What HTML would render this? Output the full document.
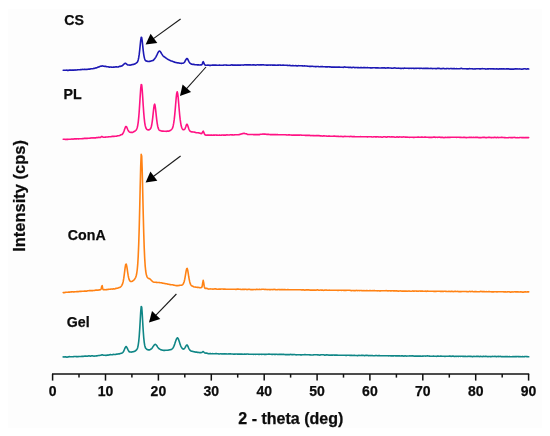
<!DOCTYPE html>
<html><head><meta charset="utf-8"><title>XRD</title>
<style>html,body{margin:0;padding:0;background:#fff}svg{display:block}</style></head>
<body>
<svg width="550" height="436" viewBox="0 0 550 436">
<rect width="550" height="436" fill="#fff"/>
<rect x="8" y="9" width="534" height="419" fill="#fdfdfd"/>
<path d="M63.2,70.3 L63.7,70.3 L64.2,70.2 L64.7,70.3 L65.2,70.2 L65.7,70.2 L66.2,70.2 L66.7,70.1 L67.2,70.4 L67.7,70.4 L68.2,70.4 L68.7,70.2 L69.2,70.1 L69.7,70.1 L70.2,70.0 L70.7,70.1 L71.2,70.1 L71.7,70.2 L72.2,70.1 L72.7,70.1 L73.2,70.1 L73.7,70.1 L74.2,70.1 L74.7,70.0 L75.2,69.9 L75.7,70.1 L76.2,70.0 L76.7,70.0 L77.2,69.9 L77.7,69.8 L78.2,69.8 L78.7,69.8 L79.2,69.8 L79.7,69.8 L80.2,69.8 L80.7,69.6 L81.2,69.6 L81.7,69.5 L82.2,69.5 L82.7,69.4 L83.2,69.5 L83.7,69.5 L84.2,69.4 L84.7,69.4 L85.2,69.4 L85.7,69.5 L86.2,69.5 L86.7,69.4 L87.2,69.4 L87.7,69.3 L88.2,69.2 L88.7,69.1 L89.2,69.1 L89.7,69.1 L90.2,69.0 L90.7,68.9 L91.2,68.8 L91.7,68.8 L92.2,68.7 L92.7,68.7 L93.2,68.6 L93.7,68.4 L94.2,68.4 L94.7,68.2 L95.2,68.1 L95.7,67.9 L96.2,67.9 L96.7,67.7 L97.2,67.5 L97.7,67.2 L98.2,67.1 L98.7,67.0 L99.2,66.7 L99.7,66.6 L100.2,66.3 L100.7,66.3 L101.2,66.1 L101.7,66.1 L102.2,65.9 L102.7,66.0 L103.2,66.1 L103.7,66.2 L104.2,66.3 L104.7,66.4 L105.2,66.4 L105.7,66.4 L106.2,66.5 L106.7,66.7 L107.2,66.7 L107.7,66.8 L108.2,66.8 L108.7,67.0 L109.2,67.1 L109.7,67.1 L110.2,67.0 L110.7,67.0 L111.2,67.1 L111.7,67.3 L112.2,67.3 L112.7,67.2 L113.2,67.1 L113.7,67.1 L114.2,67.1 L114.7,67.0 L115.2,67.0 L115.7,66.9 L116.2,66.9 L116.7,66.9 L117.2,67.0 L117.7,67.0 L118.2,67.0 L118.7,66.7 L119.2,66.5 L119.7,66.3 L120.2,66.4 L120.7,66.2 L121.2,66.1 L121.7,66.0 L122.2,65.8 L122.7,65.4 L123.2,64.8 L123.7,64.4 L124.2,63.9 L124.7,63.5 L125.2,63.3 L125.7,63.4 L126.2,63.7 L126.7,64.2 L127.2,64.6 L127.7,65.0 L128.2,65.0 L128.7,65.0 L129.2,65.0 L129.7,65.1 L130.2,65.1 L130.7,65.0 L131.2,64.9 L131.7,64.8 L132.2,64.6 L132.7,64.5 L133.2,64.4 L133.7,64.4 L134.2,64.3 L134.7,64.1 L135.2,63.7 L135.7,63.4 L136.2,63.1 L136.7,62.8 L137.2,62.3 L137.7,61.4 L138.2,59.9 L138.7,57.7 L139.2,54.4 L139.7,50.1 L140.2,45.1 L140.7,40.4 L141.2,37.3 L141.7,37.5 L142.2,40.9 L142.7,45.7 L143.2,50.4 L143.7,54.3 L144.2,57.1 L144.7,59.0 L145.2,60.2 L145.7,60.7 L146.2,61.0 L146.7,61.1 L147.2,61.3 L147.7,61.4 L148.2,61.5 L148.7,61.5 L149.2,61.4 L149.7,61.4 L150.2,61.2 L150.7,61.1 L151.2,61.0 L151.7,60.8 L152.2,60.7 L152.7,60.5 L153.2,60.4 L153.7,59.9 L154.2,59.3 L154.7,58.7 L155.2,58.1 L155.7,57.3 L156.2,56.4 L156.7,55.3 L157.2,54.4 L157.7,53.2 L158.2,52.3 L158.7,51.5 L159.2,51.1 L159.7,51.1 L160.2,51.4 L160.7,52.1 L161.2,53.0 L161.7,53.9 L162.2,54.6 L162.7,55.4 L163.2,56.0 L163.7,56.5 L164.2,56.8 L164.7,57.1 L165.2,57.5 L165.7,57.8 L166.2,58.2 L166.7,58.5 L167.2,58.9 L167.7,59.2 L168.2,59.4 L168.7,59.7 L169.2,59.9 L169.7,60.2 L170.2,60.4 L170.7,60.7 L171.2,60.9 L171.7,61.1 L172.2,61.3 L172.7,61.4 L173.2,61.6 L173.7,61.7 L174.2,62.0 L174.7,62.3 L175.2,62.4 L175.7,62.5 L176.2,62.5 L176.7,62.7 L177.2,62.8 L177.7,62.9 L178.2,62.9 L178.7,63.0 L179.2,63.0 L179.7,63.2 L180.2,63.2 L180.7,63.3 L181.2,63.4 L181.7,63.4 L182.2,63.3 L182.7,63.2 L183.2,63.1 L183.7,62.9 L184.2,62.5 L184.7,61.9 L185.2,60.9 L185.7,60.0 L186.2,59.2 L186.7,58.6 L187.2,58.6 L187.7,59.1 L188.2,60.1 L188.7,61.2 L189.2,62.1 L189.7,62.9 L190.2,63.3 L190.7,63.8 L191.2,63.9 L191.7,64.2 L192.2,64.3 L192.7,64.4 L193.2,64.4 L193.7,64.4 L194.2,64.5 L194.7,64.6 L195.2,64.7 L195.7,64.8 L196.2,64.8 L196.7,64.8 L197.2,64.9 L197.7,64.9 L198.2,64.9 L198.7,64.9 L199.2,65.0 L199.7,65.0 L200.2,65.0 L200.7,64.9 L201.2,65.0 L201.7,64.8 L202.2,64.1 L202.7,62.6 L203.2,61.7 L203.7,62.6 L204.2,64.0 L204.7,64.8 L205.2,65.0 L205.7,65.2 L206.2,65.2 L206.7,65.2 L207.2,65.2 L207.7,65.1 L208.2,65.1 L208.7,65.2 L209.2,65.2 L209.7,65.4 L210.2,65.3 L210.7,65.4 L211.2,65.3 L211.7,65.2 L212.2,65.1 L212.7,65.1 L213.2,65.1 L213.7,65.1 L214.2,65.1 L214.7,65.1 L215.2,65.1 L215.7,65.1 L216.2,65.1 L216.7,65.2 L217.2,65.3 L217.7,65.3 L218.2,65.3 L218.7,65.2 L219.2,65.1 L219.7,65.1 L220.2,65.2 L220.7,65.3 L221.2,65.3 L221.7,65.2 L222.2,65.2 L222.7,65.2 L223.2,65.2 L223.7,65.1 L224.2,65.0 L224.7,65.0 L225.2,65.0 L225.7,65.0 L226.2,65.1 L226.7,65.1 L227.2,65.3 L227.7,65.3 L228.2,65.3 L228.7,65.2 L229.2,65.2 L229.7,65.2 L230.2,65.2 L230.7,65.1 L231.2,65.0 L231.7,64.9 L232.2,64.9 L232.7,65.2 L233.2,65.1 L233.7,65.1 L234.2,65.1 L234.7,65.0 L235.2,65.1 L235.7,65.1 L236.2,65.2 L236.7,65.1 L237.2,65.1 L237.7,65.1 L238.2,65.0 L238.7,65.1 L239.2,65.0 L239.7,65.2 L240.2,65.1 L240.7,65.1 L241.2,65.0 L241.7,65.0 L242.2,65.0 L242.7,65.0 L243.2,65.1 L243.7,65.0 L244.2,65.0 L244.7,64.8 L245.2,64.8 L245.7,64.9 L246.2,64.9 L246.7,65.0 L247.2,64.8 L247.7,64.9 L248.2,64.9 L248.7,64.9 L249.2,64.9 L249.7,64.9 L250.2,65.0 L250.7,64.9 L251.2,65.0 L251.7,65.0 L252.2,65.0 L252.7,64.9 L253.2,64.9 L253.7,64.9 L254.2,64.9 L254.7,65.0 L255.2,65.0 L255.7,65.1 L256.2,65.0 L256.7,65.0 L257.2,64.8 L257.7,64.8 L258.2,64.8 L258.7,65.0 L259.2,65.0 L259.7,64.9 L260.2,64.9 L260.7,64.8 L261.2,64.9 L261.7,64.9 L262.2,64.9 L262.7,64.8 L263.2,64.8 L263.7,64.9 L264.2,65.0 L264.7,65.0 L265.2,65.0 L265.7,65.0 L266.2,65.1 L266.7,65.1 L267.2,65.1 L267.7,65.1 L268.2,65.1 L268.7,65.0 L269.2,65.0 L269.7,65.0 L270.2,65.2 L270.7,65.0 L271.2,65.0 L271.7,65.0 L272.2,65.1 L272.7,65.1 L273.2,65.1 L273.7,65.1 L274.2,65.1 L274.7,65.0 L275.2,65.1 L275.7,65.2 L276.2,65.2 L276.7,65.2 L277.2,65.1 L277.7,65.2 L278.2,65.1 L278.7,65.1 L279.2,65.0 L279.7,65.0 L280.2,65.1 L280.7,65.1 L281.2,65.2 L281.7,65.2 L282.2,65.2 L282.7,65.1 L283.2,65.2 L283.7,65.1 L284.2,65.2 L284.7,65.2 L285.2,65.3 L285.7,65.3 L286.2,65.3 L286.7,65.3 L287.2,65.4 L287.7,65.4 L288.2,65.5 L288.7,65.5 L289.2,65.4 L289.7,65.4 L290.2,65.5 L290.7,65.6 L291.2,65.7 L291.7,65.7 L292.2,65.6 L292.7,65.6 L293.2,65.6 L293.7,65.7 L294.2,65.7 L294.7,65.7 L295.2,65.7 L295.7,65.6 L296.2,65.8 L296.7,65.9 L297.2,66.0 L297.7,65.9 L298.2,65.6 L298.7,65.7 L299.2,65.7 L299.7,65.8 L300.2,65.8 L300.7,65.8 L301.2,65.8 L301.7,65.8 L302.2,65.9 L302.7,65.9 L303.2,66.0 L303.7,66.0 L304.2,65.9 L304.7,65.9 L305.2,66.0 L305.7,66.0 L306.2,66.0 L306.7,66.0 L307.2,66.1 L307.7,66.2 L308.2,66.2 L308.7,66.3 L309.2,66.4 L309.7,66.4 L310.2,66.4 L310.7,66.4 L311.2,66.4 L311.7,66.3 L312.2,66.3 L312.7,66.3 L313.2,66.5 L313.7,66.5 L314.2,66.5 L314.7,66.5 L315.2,66.6 L315.7,66.6 L316.2,66.6 L316.7,66.5 L317.2,66.5 L317.7,66.5 L318.2,66.5 L318.7,66.6 L319.2,66.7 L319.7,66.7 L320.2,66.7 L320.7,66.6 L321.2,66.7 L321.7,66.6 L322.2,66.6 L322.7,66.6 L323.2,66.7 L323.7,66.8 L324.2,66.8 L324.7,66.7 L325.2,66.7 L325.7,66.9 L326.2,66.9 L326.7,66.9 L327.2,66.9 L327.7,66.9 L328.2,66.8 L328.7,66.8 L329.2,66.9 L329.7,66.9 L330.2,66.9 L330.7,67.0 L331.2,67.1 L331.7,67.1 L332.2,67.1 L332.7,67.0 L333.2,67.1 L333.7,67.0 L334.2,67.1 L334.7,67.1 L335.2,67.2 L335.7,67.1 L336.2,67.2 L336.7,67.1 L337.2,67.2 L337.7,67.1 L338.2,67.1 L338.7,67.1 L339.2,67.0 L339.7,67.1 L340.2,67.2 L340.7,67.3 L341.2,67.3 L341.7,67.2 L342.2,67.2 L342.7,67.3 L343.2,67.4 L343.7,67.3 L344.2,67.0 L344.7,66.9 L345.2,67.1 L345.7,67.3 L346.2,67.3 L346.7,67.3 L347.2,67.3 L347.7,67.3 L348.2,67.4 L348.7,67.4 L349.2,67.5 L349.7,67.4 L350.2,67.4 L350.7,67.4 L351.2,67.5 L351.7,67.6 L352.2,67.6 L352.7,67.4 L353.2,67.3 L353.7,67.3 L354.2,67.5 L354.7,67.6 L355.2,67.6 L355.7,67.5 L356.2,67.5 L356.7,67.5 L357.2,67.6 L357.7,67.5 L358.2,67.6 L358.7,67.6 L359.2,67.7 L359.7,67.7 L360.2,67.6 L360.7,67.6 L361.2,67.6 L361.7,67.6 L362.2,67.7 L362.7,67.7 L363.2,67.6 L363.7,67.5 L364.2,67.6 L364.7,67.6 L365.2,67.6 L365.7,67.7 L366.2,67.7 L366.7,67.8 L367.2,67.6 L367.7,67.6 L368.2,67.7 L368.7,67.7 L369.2,67.7 L369.7,67.8 L370.2,67.9 L370.7,67.9 L371.2,67.9 L371.7,68.0 L372.2,67.9 L372.7,67.8 L373.2,67.7 L373.7,67.8 L374.2,67.7 L374.7,67.7 L375.2,67.7 L375.7,67.9 L376.2,67.8 L376.7,67.9 L377.2,67.9 L377.7,67.9 L378.2,67.9 L378.7,68.0 L379.2,68.0 L379.7,68.0 L380.2,68.0 L380.7,68.0 L381.2,68.0 L381.7,67.9 L382.2,68.0 L382.7,67.9 L383.2,68.0 L383.7,67.9 L384.2,67.9 L384.7,67.9 L385.2,68.0 L385.7,68.1 L386.2,68.0 L386.7,68.0 L387.2,67.9 L387.7,67.9 L388.2,67.9 L388.7,67.9 L389.2,68.0 L389.7,68.0 L390.2,68.0 L390.7,68.0 L391.2,68.1 L391.7,68.2 L392.2,68.3 L392.7,68.2 L393.2,68.1 L393.7,68.0 L394.2,68.0 L394.7,67.9 L395.2,68.0 L395.7,68.0 L396.2,68.2 L396.7,68.3 L397.2,68.2 L397.7,68.2 L398.2,68.1 L398.7,68.2 L399.2,68.2 L399.7,68.3 L400.2,68.4 L400.7,68.4 L401.2,68.5 L401.7,68.4 L402.2,68.3 L402.7,68.3 L403.2,68.4 L403.7,68.4 L404.2,68.3 L404.7,68.1 L405.2,68.2 L405.7,68.2 L406.2,68.3 L406.7,68.3 L407.2,68.2 L407.7,68.2 L408.2,68.3 L408.7,68.4 L409.2,68.4 L409.7,68.3 L410.2,68.3 L410.7,68.3 L411.2,68.4 L411.7,68.3 L412.2,68.2 L412.7,68.3 L413.2,68.2 L413.7,68.4 L414.2,68.4 L414.7,68.5 L415.2,68.4 L415.7,68.3 L416.2,68.3 L416.7,68.4 L417.2,68.3 L417.7,68.2 L418.2,68.3 L418.7,68.3 L419.2,68.4 L419.7,68.3 L420.2,68.4 L420.7,68.3 L421.2,68.3 L421.7,68.3 L422.2,68.5 L422.7,68.5 L423.2,68.4 L423.7,68.5 L424.2,68.4 L424.7,68.5 L425.2,68.4 L425.7,68.4 L426.2,68.4 L426.7,68.4 L427.2,68.4 L427.7,68.3 L428.2,68.4 L428.7,68.5 L429.2,68.5 L429.7,68.5 L430.2,68.5 L430.7,68.4 L431.2,68.4 L431.7,68.5 L432.2,68.5 L432.7,68.6 L433.2,68.5 L433.7,68.5 L434.2,68.5 L434.7,68.5 L435.2,68.5 L435.7,68.6 L436.2,68.6 L436.7,68.6 L437.2,68.4 L437.7,68.4 L438.2,68.4 L438.7,68.4 L439.2,68.4 L439.7,68.5 L440.2,68.6 L440.7,68.7 L441.2,68.7 L441.7,68.6 L442.2,68.6 L442.7,68.5 L443.2,68.4 L443.7,68.5 L444.2,68.6 L444.7,68.7 L445.2,68.7 L445.7,68.7 L446.2,68.6 L446.7,68.6 L447.2,68.5 L447.7,68.5 L448.2,68.5 L448.7,68.7 L449.2,68.7 L449.7,68.7 L450.2,68.5 L450.7,68.5 L451.2,68.5 L451.7,68.6 L452.2,68.6 L452.7,68.7 L453.2,68.8 L453.7,68.6 L454.2,68.5 L454.7,68.6 L455.2,68.7 L455.7,68.7 L456.2,68.7 L456.7,68.6 L457.2,68.7 L457.7,68.7 L458.2,68.7 L458.7,68.7 L459.2,68.7 L459.7,68.7 L460.2,68.6 L460.7,68.5 L461.2,68.4 L461.7,68.4 L462.2,68.6 L462.7,68.7 L463.2,68.8 L463.7,68.8 L464.2,68.7 L464.7,68.8 L465.2,68.8 L465.7,68.8 L466.2,68.8 L466.7,68.9 L467.2,68.9 L467.7,68.8 L468.2,68.9 L468.7,68.7 L469.2,68.7 L469.7,68.6 L470.2,68.7 L470.7,68.7 L471.2,68.8 L471.7,68.7 L472.2,68.8 L472.7,68.9 L473.2,69.0 L473.7,69.0 L474.2,68.9 L474.7,69.0 L475.2,69.0 L475.7,68.9 L476.2,68.8 L476.7,68.8 L477.2,68.8 L477.7,68.7 L478.2,68.7 L478.7,68.7 L479.2,68.7 L479.7,68.9 L480.2,68.9 L480.7,68.9 L481.2,68.7 L481.7,68.7 L482.2,68.6 L482.7,68.7 L483.2,68.8 L483.7,68.8 L484.2,68.8 L484.7,68.8 L485.2,68.9 L485.7,69.1 L486.2,69.0 L486.7,69.0 L487.2,68.9 L487.7,68.9 L488.2,68.8 L488.7,68.9 L489.2,68.8 L489.7,68.8 L490.2,68.8 L490.7,68.9 L491.2,68.9 L491.7,68.8 L492.2,68.8 L492.7,68.9 L493.2,68.9 L493.7,68.9 L494.2,68.9 L494.7,69.0 L495.2,69.0 L495.7,69.0 L496.2,68.8 L496.7,68.7 L497.2,68.9 L497.7,69.0 L498.2,69.1 L498.7,69.0 L499.2,68.9 L499.7,68.9 L500.2,68.9 L500.7,69.0 L501.2,68.9 L501.7,68.9 L502.2,68.9 L502.7,69.0 L503.2,68.9 L503.7,68.9 L504.2,68.9 L504.7,69.0 L505.2,69.0 L505.7,69.0 L506.2,68.9 L506.7,68.8 L507.2,68.9 L507.7,68.9 L508.2,68.9 L508.7,68.9 L509.2,69.0 L509.7,69.1 L510.2,69.1 L510.7,69.0 L511.2,69.1 L511.7,69.1 L512.2,69.1 L512.7,69.1 L513.2,69.2 L513.7,69.0 L514.2,69.1 L514.7,68.9 L515.2,68.9 L515.7,68.9 L516.2,68.9 L516.7,69.0 L517.2,68.9 L517.7,69.0 L518.2,69.0 L518.7,69.0 L519.2,68.9 L519.7,69.0 L520.2,69.0 L520.7,69.0 L521.2,69.1 L521.7,69.2 L522.2,69.2 L522.7,69.0 L523.2,69.0 L523.7,68.9 L524.2,68.8 L524.7,68.7 L525.2,68.8 L525.7,69.0 L526.2,69.0 L526.7,69.1 L527.2,68.9 L527.7,68.9 L528.2,68.9 L528.7,69.0" fill="none" stroke="#1c18b4" stroke-width="1.6" stroke-linejoin="round" stroke-linecap="round"/>
<path d="M63.2,139.3 L63.7,139.3 L64.2,139.3 L64.7,139.3 L65.2,139.4 L65.7,139.5 L66.2,139.4 L66.7,139.4 L67.2,139.3 L67.7,139.4 L68.2,139.2 L68.7,139.2 L69.2,139.2 L69.7,139.2 L70.2,139.2 L70.7,139.2 L71.2,139.1 L71.7,139.0 L72.2,139.0 L72.7,139.1 L73.2,139.1 L73.7,139.0 L74.2,138.9 L74.7,138.9 L75.2,138.8 L75.7,138.9 L76.2,138.9 L76.7,138.9 L77.2,138.8 L77.7,138.8 L78.2,138.9 L78.7,138.9 L79.2,138.8 L79.7,138.7 L80.2,138.8 L80.7,138.8 L81.2,138.7 L81.7,138.7 L82.2,138.6 L82.7,138.7 L83.2,138.6 L83.7,138.5 L84.2,138.4 L84.7,138.4 L85.2,138.4 L85.7,138.4 L86.2,138.4 L86.7,138.4 L87.2,138.4 L87.7,138.2 L88.2,138.2 L88.7,138.3 L89.2,138.3 L89.7,138.3 L90.2,138.1 L90.7,138.0 L91.2,137.9 L91.7,138.0 L92.2,138.0 L92.7,137.9 L93.2,138.0 L93.7,137.9 L94.2,138.0 L94.7,137.9 L95.2,137.9 L95.7,137.9 L96.2,137.7 L96.7,137.5 L97.2,137.5 L97.7,137.6 L98.2,137.5 L98.7,137.3 L99.2,137.4 L99.7,137.5 L100.2,137.5 L100.7,137.2 L101.2,136.8 L101.7,136.5 L102.2,136.6 L102.7,136.9 L103.2,137.2 L103.7,137.3 L104.2,137.3 L104.7,137.2 L105.2,137.1 L105.7,137.1 L106.2,137.0 L106.7,137.0 L107.2,137.0 L107.7,137.0 L108.2,136.9 L108.7,136.8 L109.2,136.8 L109.7,136.8 L110.2,136.8 L110.7,136.7 L111.2,136.6 L111.7,136.5 L112.2,136.4 L112.7,136.3 L113.2,136.4 L113.7,136.4 L114.2,136.4 L114.7,136.3 L115.2,136.3 L115.7,136.3 L116.2,136.2 L116.7,136.1 L117.2,136.0 L117.7,135.8 L118.2,135.8 L118.7,135.7 L119.2,135.6 L119.7,135.4 L120.2,135.2 L120.7,134.9 L121.2,134.8 L121.7,134.6 L122.2,134.4 L122.7,133.8 L123.2,132.9 L123.7,131.8 L124.2,130.6 L124.7,129.1 L125.2,127.7 L125.7,126.6 L126.2,126.5 L126.7,127.1 L127.2,128.3 L127.7,129.5 L128.2,130.5 L128.7,131.3 L129.2,131.8 L129.7,132.2 L130.2,132.3 L130.7,132.4 L131.2,132.4 L131.7,132.4 L132.2,132.5 L132.7,132.4 L133.2,132.1 L133.7,131.8 L134.2,131.5 L134.7,131.3 L135.2,130.9 L135.7,130.5 L136.2,129.9 L136.7,129.1 L137.2,127.7 L137.7,125.6 L138.2,122.3 L138.7,117.7 L139.2,111.5 L139.7,104.0 L140.2,96.0 L140.7,88.7 L141.2,84.5 L141.7,84.9 L142.2,89.8 L142.7,97.2 L143.2,105.2 L143.7,112.4 L144.2,118.2 L144.7,122.6 L145.2,125.5 L145.7,127.4 L146.2,128.6 L146.7,129.2 L147.2,129.5 L147.7,129.7 L148.2,130.0 L148.7,129.9 L149.2,129.7 L149.7,129.5 L150.2,129.1 L150.7,128.4 L151.2,127.0 L151.7,125.0 L152.2,121.8 L152.7,117.9 L153.2,113.2 L153.7,108.6 L154.2,105.1 L154.7,104.1 L155.2,106.3 L155.7,110.4 L156.2,115.2 L156.7,119.6 L157.2,123.3 L157.7,126.2 L158.2,128.1 L158.7,129.3 L159.2,130.1 L159.7,130.4 L160.2,130.6 L160.7,130.8 L161.2,130.9 L161.7,131.1 L162.2,131.1 L162.7,131.1 L163.2,131.1 L163.7,131.2 L164.2,131.2 L164.7,131.3 L165.2,131.3 L165.7,131.3 L166.2,131.4 L166.7,131.3 L167.2,131.1 L167.7,131.0 L168.2,131.1 L168.7,131.2 L169.2,131.0 L169.7,130.8 L170.2,130.6 L170.7,130.2 L171.2,129.8 L171.7,129.3 L172.2,128.6 L172.7,127.6 L173.2,125.7 L173.7,123.2 L174.2,119.7 L174.7,115.2 L175.2,109.7 L175.7,103.5 L176.2,97.7 L176.7,93.4 L177.2,91.8 L177.7,93.6 L178.2,97.9 L178.7,103.7 L179.2,109.7 L179.7,115.2 L180.2,119.7 L180.7,123.1 L181.2,125.8 L181.7,127.5 L182.2,128.6 L182.7,129.4 L183.2,129.7 L183.7,129.8 L184.2,129.6 L184.7,129.2 L185.2,128.3 L185.7,127.0 L186.2,125.4 L186.7,124.4 L187.2,124.3 L187.7,125.5 L188.2,127.1 L188.7,128.6 L189.2,129.8 L189.7,130.7 L190.2,131.3 L190.7,131.6 L191.2,131.8 L191.7,131.9 L192.2,131.9 L192.7,132.0 L193.2,132.0 L193.7,132.0 L194.2,132.1 L194.7,132.3 L195.2,132.4 L195.7,132.5 L196.2,132.7 L196.7,132.7 L197.2,132.7 L197.7,132.8 L198.2,132.8 L198.7,132.9 L199.2,133.0 L199.7,133.1 L200.2,133.3 L200.7,133.5 L201.2,133.6 L201.7,133.5 L202.2,132.8 L202.7,131.8 L203.2,131.2 L203.7,132.1 L204.2,133.4 L204.7,134.4 L205.2,134.9 L205.7,135.1 L206.2,135.2 L206.7,135.1 L207.2,135.1 L207.7,135.1 L208.2,135.0 L208.7,135.1 L209.2,135.2 L209.7,135.1 L210.2,135.2 L210.7,135.1 L211.2,135.1 L211.7,135.0 L212.2,135.2 L212.7,135.2 L213.2,135.1 L213.7,135.0 L214.2,135.1 L214.7,135.1 L215.2,135.0 L215.7,135.0 L216.2,135.1 L216.7,135.1 L217.2,135.1 L217.7,135.2 L218.2,135.2 L218.7,135.2 L219.2,135.1 L219.7,135.1 L220.2,135.3 L220.7,135.3 L221.2,135.3 L221.7,135.1 L222.2,135.0 L222.7,135.0 L223.2,135.1 L223.7,135.0 L224.2,135.1 L224.7,135.1 L225.2,135.1 L225.7,135.1 L226.2,135.0 L226.7,134.9 L227.2,134.9 L227.7,135.0 L228.2,135.0 L228.7,135.0 L229.2,135.0 L229.7,135.0 L230.2,134.8 L230.7,134.8 L231.2,134.8 L231.7,134.9 L232.2,134.9 L232.7,134.9 L233.2,135.0 L233.7,135.0 L234.2,134.9 L234.7,134.8 L235.2,134.7 L235.7,134.8 L236.2,134.7 L236.7,134.8 L237.2,134.7 L237.7,134.7 L238.2,134.8 L238.7,134.8 L239.2,134.6 L239.7,134.5 L240.2,134.2 L240.7,134.1 L241.2,134.0 L241.7,133.9 L242.2,133.8 L242.7,133.6 L243.2,133.5 L243.7,133.4 L244.2,133.3 L244.7,133.5 L245.2,133.7 L245.7,133.7 L246.2,133.8 L246.7,133.9 L247.2,134.2 L247.7,134.4 L248.2,134.5 L248.7,134.5 L249.2,134.5 L249.7,134.5 L250.2,134.5 L250.7,134.5 L251.2,134.5 L251.7,134.5 L252.2,134.5 L252.7,134.5 L253.2,134.5 L253.7,134.7 L254.2,134.6 L254.7,134.5 L255.2,134.6 L255.7,134.6 L256.2,134.6 L256.7,134.5 L257.2,134.6 L257.7,134.6 L258.2,134.6 L258.7,134.6 L259.2,134.6 L259.7,134.6 L260.2,134.3 L260.7,134.3 L261.2,134.3 L261.7,134.3 L262.2,134.2 L262.7,134.0 L263.2,134.0 L263.7,134.1 L264.2,134.1 L264.7,134.1 L265.2,134.1 L265.7,134.2 L266.2,134.3 L266.7,134.4 L267.2,134.4 L267.7,134.4 L268.2,134.4 L268.7,134.4 L269.2,134.5 L269.7,134.5 L270.2,134.6 L270.7,134.6 L271.2,134.6 L271.7,134.6 L272.2,134.6 L272.7,134.6 L273.2,134.6 L273.7,134.6 L274.2,134.6 L274.7,134.6 L275.2,134.5 L275.7,134.6 L276.2,134.6 L276.7,134.7 L277.2,134.6 L277.7,134.6 L278.2,134.7 L278.7,134.8 L279.2,134.7 L279.7,134.8 L280.2,134.7 L280.7,134.7 L281.2,134.7 L281.7,134.7 L282.2,134.8 L282.7,134.7 L283.2,134.8 L283.7,134.8 L284.2,134.8 L284.7,134.8 L285.2,134.8 L285.7,134.8 L286.2,134.9 L286.7,135.0 L287.2,135.0 L287.7,135.0 L288.2,134.9 L288.7,134.9 L289.2,134.9 L289.7,134.9 L290.2,135.0 L290.7,135.0 L291.2,135.0 L291.7,135.1 L292.2,135.1 L292.7,135.2 L293.2,135.1 L293.7,135.1 L294.2,135.1 L294.7,135.1 L295.2,135.0 L295.7,135.1 L296.2,135.0 L296.7,135.1 L297.2,135.0 L297.7,135.1 L298.2,135.1 L298.7,135.1 L299.2,135.0 L299.7,135.1 L300.2,135.0 L300.7,135.0 L301.2,135.1 L301.7,135.2 L302.2,135.3 L302.7,135.3 L303.2,135.3 L303.7,135.3 L304.2,135.2 L304.7,135.3 L305.2,135.4 L305.7,135.4 L306.2,135.4 L306.7,135.4 L307.2,135.4 L307.7,135.4 L308.2,135.4 L308.7,135.4 L309.2,135.3 L309.7,135.4 L310.2,135.5 L310.7,135.6 L311.2,135.6 L311.7,135.5 L312.2,135.5 L312.7,135.6 L313.2,135.6 L313.7,135.6 L314.2,135.6 L314.7,135.8 L315.2,135.7 L315.7,135.6 L316.2,135.6 L316.7,135.6 L317.2,135.6 L317.7,135.5 L318.2,135.6 L318.7,135.6 L319.2,135.6 L319.7,135.7 L320.2,135.9 L320.7,135.9 L321.2,135.9 L321.7,136.0 L322.2,136.0 L322.7,136.1 L323.2,135.9 L323.7,135.9 L324.2,135.8 L324.7,136.0 L325.2,136.0 L325.7,136.0 L326.2,136.0 L326.7,136.1 L327.2,136.2 L327.7,136.2 L328.2,136.1 L328.7,136.1 L329.2,136.0 L329.7,136.1 L330.2,136.2 L330.7,136.3 L331.2,136.3 L331.7,136.2 L332.2,136.2 L332.7,136.2 L333.2,136.2 L333.7,136.1 L334.2,136.1 L334.7,136.1 L335.2,136.3 L335.7,136.3 L336.2,136.4 L336.7,136.3 L337.2,136.3 L337.7,136.4 L338.2,136.4 L338.7,136.4 L339.2,136.5 L339.7,136.5 L340.2,136.5 L340.7,136.4 L341.2,136.4 L341.7,136.5 L342.2,136.5 L342.7,136.6 L343.2,136.5 L343.7,136.6 L344.2,136.4 L344.7,136.5 L345.2,136.4 L345.7,136.5 L346.2,136.5 L346.7,136.5 L347.2,136.5 L347.7,136.5 L348.2,136.5 L348.7,136.5 L349.2,136.5 L349.7,136.6 L350.2,136.5 L350.7,136.4 L351.2,136.4 L351.7,136.6 L352.2,136.6 L352.7,136.7 L353.2,136.6 L353.7,136.6 L354.2,136.6 L354.7,136.6 L355.2,136.7 L355.7,136.7 L356.2,136.7 L356.7,136.8 L357.2,136.7 L357.7,136.7 L358.2,136.7 L358.7,136.7 L359.2,136.8 L359.7,136.7 L360.2,136.7 L360.7,136.6 L361.2,136.7 L361.7,136.7 L362.2,136.7 L362.7,136.7 L363.2,136.8 L363.7,136.8 L364.2,136.8 L364.7,136.8 L365.2,136.8 L365.7,136.7 L366.2,136.7 L366.7,136.8 L367.2,136.9 L367.7,136.9 L368.2,136.8 L368.7,136.7 L369.2,136.7 L369.7,136.7 L370.2,136.8 L370.7,136.7 L371.2,136.8 L371.7,136.9 L372.2,137.0 L372.7,137.0 L373.2,137.0 L373.7,136.8 L374.2,136.8 L374.7,136.8 L375.2,136.9 L375.7,136.9 L376.2,136.9 L376.7,136.9 L377.2,136.8 L377.7,136.8 L378.2,136.9 L378.7,137.0 L379.2,137.0 L379.7,137.0 L380.2,136.9 L380.7,137.0 L381.2,137.0 L381.7,137.1 L382.2,137.2 L382.7,137.1 L383.2,136.9 L383.7,136.8 L384.2,136.8 L384.7,136.8 L385.2,136.9 L385.7,137.0 L386.2,137.1 L386.7,137.1 L387.2,136.9 L387.7,136.9 L388.2,136.8 L388.7,136.8 L389.2,136.8 L389.7,136.9 L390.2,137.0 L390.7,137.0 L391.2,136.9 L391.7,136.9 L392.2,136.9 L392.7,137.0 L393.2,136.9 L393.7,137.0 L394.2,137.0 L394.7,137.1 L395.2,137.2 L395.7,137.2 L396.2,137.1 L396.7,136.9 L397.2,136.9 L397.7,137.0 L398.2,137.2 L398.7,137.1 L399.2,137.0 L399.7,136.9 L400.2,137.0 L400.7,137.0 L401.2,137.0 L401.7,137.1 L402.2,137.1 L402.7,137.0 L403.2,137.0 L403.7,136.9 L404.2,137.0 L404.7,137.0 L405.2,137.1 L405.7,137.1 L406.2,137.1 L406.7,137.2 L407.2,137.1 L407.7,137.2 L408.2,137.2 L408.7,137.3 L409.2,137.3 L409.7,137.4 L410.2,137.3 L410.7,137.2 L411.2,137.2 L411.7,137.3 L412.2,137.3 L412.7,137.3 L413.2,137.4 L413.7,137.4 L414.2,137.4 L414.7,137.3 L415.2,137.2 L415.7,137.3 L416.2,137.2 L416.7,137.2 L417.2,137.2 L417.7,137.1 L418.2,137.1 L418.7,137.1 L419.2,137.2 L419.7,137.3 L420.2,137.3 L420.7,137.2 L421.2,137.1 L421.7,137.1 L422.2,137.1 L422.7,137.3 L423.2,137.3 L423.7,137.3 L424.2,137.3 L424.7,137.1 L425.2,137.1 L425.7,137.1 L426.2,137.2 L426.7,137.2 L427.2,137.2 L427.7,137.2 L428.2,137.3 L428.7,137.4 L429.2,137.4 L429.7,137.4 L430.2,137.4 L430.7,137.3 L431.2,137.4 L431.7,137.4 L432.2,137.4 L432.7,137.3 L433.2,137.3 L433.7,137.1 L434.2,137.0 L434.7,137.1 L435.2,137.3 L435.7,137.4 L436.2,137.3 L436.7,137.3 L437.2,137.3 L437.7,137.4 L438.2,137.3 L438.7,137.3 L439.2,137.1 L439.7,137.2 L440.2,137.2 L440.7,137.5 L441.2,137.4 L441.7,137.4 L442.2,137.3 L442.7,137.4 L443.2,137.5 L443.7,137.6 L444.2,137.6 L444.7,137.5 L445.2,137.4 L445.7,137.4 L446.2,137.5 L446.7,137.5 L447.2,137.4 L447.7,137.4 L448.2,137.3 L448.7,137.4 L449.2,137.4 L449.7,137.4 L450.2,137.4 L450.7,137.3 L451.2,137.3 L451.7,137.2 L452.2,137.2 L452.7,137.2 L453.2,137.2 L453.7,137.2 L454.2,137.3 L454.7,137.3 L455.2,137.2 L455.7,137.3 L456.2,137.3 L456.7,137.4 L457.2,137.3 L457.7,137.3 L458.2,137.3 L458.7,137.3 L459.2,137.3 L459.7,137.4 L460.2,137.4 L460.7,137.4 L461.2,137.4 L461.7,137.5 L462.2,137.5 L462.7,137.5 L463.2,137.4 L463.7,137.4 L464.2,137.4 L464.7,137.4 L465.2,137.4 L465.7,137.6 L466.2,137.6 L466.7,137.6 L467.2,137.5 L467.7,137.5 L468.2,137.5 L468.7,137.5 L469.2,137.3 L469.7,137.4 L470.2,137.5 L470.7,137.4 L471.2,137.4 L471.7,137.4 L472.2,137.5 L472.7,137.5 L473.2,137.4 L473.7,137.4 L474.2,137.5 L474.7,137.5 L475.2,137.4 L475.7,137.4 L476.2,137.4 L476.7,137.4 L477.2,137.4 L477.7,137.4 L478.2,137.5 L478.7,137.6 L479.2,137.6 L479.7,137.5 L480.2,137.6 L480.7,137.5 L481.2,137.6 L481.7,137.5 L482.2,137.5 L482.7,137.4 L483.2,137.4 L483.7,137.4 L484.2,137.4 L484.7,137.4 L485.2,137.5 L485.7,137.6 L486.2,137.6 L486.7,137.6 L487.2,137.5 L487.7,137.5 L488.2,137.4 L488.7,137.4 L489.2,137.4 L489.7,137.4 L490.2,137.4 L490.7,137.6 L491.2,137.8 L491.7,137.6 L492.2,137.5 L492.7,137.5 L493.2,137.6 L493.7,137.5 L494.2,137.4 L494.7,137.3 L495.2,137.4 L495.7,137.5 L496.2,137.6 L496.7,137.6 L497.2,137.4 L497.7,137.4 L498.2,137.5 L498.7,137.6 L499.2,137.5 L499.7,137.5 L500.2,137.5 L500.7,137.5 L501.2,137.4 L501.7,137.3 L502.2,137.4 L502.7,137.5 L503.2,137.5 L503.7,137.5 L504.2,137.6 L504.7,137.5 L505.2,137.6 L505.7,137.7 L506.2,137.8 L506.7,137.7 L507.2,137.7 L507.7,137.7 L508.2,137.7 L508.7,137.6 L509.2,137.5 L509.7,137.5 L510.2,137.5 L510.7,137.6 L511.2,137.6 L511.7,137.6 L512.2,137.5 L512.7,137.6 L513.2,137.5 L513.7,137.5 L514.2,137.4 L514.7,137.5 L515.2,137.5 L515.7,137.7 L516.2,137.7 L516.7,137.7 L517.2,137.6 L517.7,137.7 L518.2,137.8 L518.7,137.8 L519.2,137.7 L519.7,137.5 L520.2,137.5 L520.7,137.5 L521.2,137.5 L521.7,137.6 L522.2,137.5 L522.7,137.6 L523.2,137.5 L523.7,137.6 L524.2,137.7 L524.7,137.6 L525.2,137.6 L525.7,137.5 L526.2,137.6 L526.7,137.6 L527.2,137.5 L527.7,137.6 L528.2,137.6 L528.7,137.6" fill="none" stroke="#ff1284" stroke-width="1.6" stroke-linejoin="round" stroke-linecap="round"/>
<path d="M63.2,292.6 L63.7,292.6 L64.2,292.7 L64.7,292.5 L65.2,292.4 L65.7,292.2 L66.2,292.2 L66.7,292.2 L67.2,292.3 L67.7,292.3 L68.2,292.3 L68.7,292.1 L69.2,292.0 L69.7,292.1 L70.2,292.0 L70.7,292.0 L71.2,291.8 L71.7,291.9 L72.2,291.7 L72.7,291.8 L73.2,291.9 L73.7,292.0 L74.2,291.9 L74.7,291.8 L75.2,291.7 L75.7,291.7 L76.2,291.7 L76.7,291.6 L77.2,291.6 L77.7,291.6 L78.2,291.7 L78.7,291.5 L79.2,291.5 L79.7,291.4 L80.2,291.4 L80.7,291.3 L81.2,291.4 L81.7,291.3 L82.2,291.3 L82.7,291.3 L83.2,291.3 L83.7,291.2 L84.2,291.1 L84.7,291.1 L85.2,291.1 L85.7,291.1 L86.2,291.1 L86.7,291.1 L87.2,291.0 L87.7,290.8 L88.2,290.8 L88.7,290.7 L89.2,290.6 L89.7,290.6 L90.2,290.5 L90.7,290.6 L91.2,290.6 L91.7,290.7 L92.2,290.5 L92.7,290.6 L93.2,290.5 L93.7,290.5 L94.2,290.5 L94.7,290.4 L95.2,290.2 L95.7,290.1 L96.2,290.0 L96.7,290.1 L97.2,290.1 L97.7,290.2 L98.2,290.1 L98.7,290.0 L99.2,289.9 L99.7,289.9 L100.2,289.8 L100.7,289.7 L101.2,288.9 L101.7,286.3 L102.2,285.7 L102.7,288.6 L103.2,289.6 L103.7,289.7 L104.2,289.7 L104.7,289.6 L105.2,289.7 L105.7,289.7 L106.2,289.6 L106.7,289.6 L107.2,289.6 L107.7,289.4 L108.2,289.4 L108.7,289.2 L109.2,289.3 L109.7,289.2 L110.2,289.2 L110.7,289.1 L111.2,289.0 L111.7,289.0 L112.2,289.1 L112.7,289.0 L113.2,288.9 L113.7,288.9 L114.2,289.0 L114.7,288.9 L115.2,288.7 L115.7,288.4 L116.2,288.4 L116.7,288.2 L117.2,288.2 L117.7,288.1 L118.2,287.9 L118.7,287.7 L119.2,287.5 L119.7,287.4 L120.2,287.2 L120.7,286.8 L121.2,286.3 L121.7,285.6 L122.2,284.7 L122.7,283.4 L123.2,281.5 L123.7,278.7 L124.2,275.1 L124.7,271.1 L125.2,267.2 L125.7,264.5 L126.2,264.0 L126.7,265.9 L127.2,269.0 L127.7,272.5 L128.2,275.7 L128.7,278.0 L129.2,279.7 L129.7,280.7 L130.2,281.2 L130.7,281.5 L131.2,281.5 L131.7,281.5 L132.2,281.3 L132.7,281.0 L133.2,280.6 L133.7,280.2 L134.2,279.7 L134.7,279.0 L135.2,278.2 L135.7,277.3 L136.2,275.7 L136.7,273.5 L137.2,270.0 L137.7,264.7 L138.2,256.5 L138.7,244.5 L139.2,228.4 L139.7,208.4 L140.2,186.3 L140.7,166.3 L141.2,154.4 L141.7,156.0 L142.2,170.1 L142.7,191.0 L143.2,212.8 L143.7,232.1 L144.2,247.4 L144.7,258.5 L145.2,266.1 L145.7,271.0 L146.2,274.1 L146.7,275.9 L147.2,277.1 L147.7,277.8 L148.2,278.3 L148.7,278.5 L149.2,278.6 L149.7,278.8 L150.2,279.2 L150.7,279.6 L151.2,280.2 L151.7,280.7 L152.2,281.2 L152.7,281.6 L153.2,281.9 L153.7,282.1 L154.2,282.2 L154.7,282.2 L155.2,282.2 L155.7,282.3 L156.2,282.4 L156.7,282.4 L157.2,282.5 L157.7,282.5 L158.2,282.5 L158.7,282.5 L159.2,282.5 L159.7,282.6 L160.2,282.7 L160.7,282.8 L161.2,282.8 L161.7,282.9 L162.2,283.1 L162.7,283.1 L163.2,283.2 L163.7,283.2 L164.2,283.4 L164.7,283.5 L165.2,283.6 L165.7,283.7 L166.2,283.7 L166.7,283.8 L167.2,284.0 L167.7,284.1 L168.2,284.3 L168.7,284.3 L169.2,284.4 L169.7,284.5 L170.2,284.6 L170.7,284.8 L171.2,284.7 L171.7,284.7 L172.2,284.7 L172.7,284.8 L173.2,285.0 L173.7,285.1 L174.2,285.3 L174.7,285.3 L175.2,285.5 L175.7,285.5 L176.2,285.6 L176.7,285.6 L177.2,285.6 L177.7,285.6 L178.2,285.6 L178.7,285.5 L179.2,285.4 L179.7,285.4 L180.2,285.3 L180.7,285.3 L181.2,285.2 L181.7,285.2 L182.2,285.0 L182.7,284.6 L183.2,284.0 L183.7,282.9 L184.2,281.5 L184.7,279.4 L185.2,276.7 L185.7,273.7 L186.2,270.6 L186.7,268.7 L187.2,268.4 L187.7,270.2 L188.2,273.2 L188.7,276.5 L189.2,279.3 L189.7,281.7 L190.2,283.4 L190.7,284.6 L191.2,285.4 L191.7,285.8 L192.2,286.1 L192.7,286.3 L193.2,286.5 L193.7,286.8 L194.2,287.0 L194.7,287.0 L195.2,287.0 L195.7,287.1 L196.2,287.2 L196.7,287.3 L197.2,287.4 L197.7,287.4 L198.2,287.4 L198.7,287.5 L199.2,287.5 L199.7,287.7 L200.2,287.8 L200.7,287.8 L201.2,287.6 L201.7,287.4 L202.2,286.1 L202.7,282.8 L203.2,280.3 L203.7,282.7 L204.2,286.2 L204.7,287.9 L205.2,288.4 L205.7,288.4 L206.2,288.4 L206.7,288.3 L207.2,288.5 L207.7,288.7 L208.2,288.9 L208.7,289.1 L209.2,289.0 L209.7,289.0 L210.2,288.9 L210.7,289.0 L211.2,289.0 L211.7,289.0 L212.2,289.0 L212.7,289.1 L213.2,289.1 L213.7,289.0 L214.2,289.0 L214.7,288.9 L215.2,288.9 L215.7,288.9 L216.2,289.0 L216.7,289.1 L217.2,289.2 L217.7,289.2 L218.2,289.2 L218.7,289.1 L219.2,289.1 L219.7,289.1 L220.2,289.1 L220.7,289.1 L221.2,289.0 L221.7,289.0 L222.2,289.0 L222.7,289.0 L223.2,289.1 L223.7,289.1 L224.2,289.1 L224.7,289.1 L225.2,289.1 L225.7,289.2 L226.2,289.2 L226.7,289.3 L227.2,289.2 L227.7,289.3 L228.2,289.3 L228.7,289.3 L229.2,289.2 L229.7,289.2 L230.2,289.2 L230.7,289.3 L231.2,289.3 L231.7,289.3 L232.2,289.3 L232.7,289.2 L233.2,289.2 L233.7,289.2 L234.2,289.3 L234.7,289.2 L235.2,289.3 L235.7,289.4 L236.2,289.4 L236.7,289.3 L237.2,289.1 L237.7,289.1 L238.2,289.1 L238.7,289.3 L239.2,289.3 L239.7,289.3 L240.2,289.3 L240.7,289.4 L241.2,289.5 L241.7,289.5 L242.2,289.4 L242.7,289.4 L243.2,289.4 L243.7,289.4 L244.2,289.4 L244.7,289.4 L245.2,289.3 L245.7,289.3 L246.2,289.4 L246.7,289.5 L247.2,289.6 L247.7,289.4 L248.2,289.4 L248.7,289.3 L249.2,289.3 L249.7,289.4 L250.2,289.5 L250.7,289.6 L251.2,289.6 L251.7,289.5 L252.2,289.6 L252.7,289.5 L253.2,289.6 L253.7,289.5 L254.2,289.5 L254.7,289.5 L255.2,289.5 L255.7,289.6 L256.2,289.4 L256.7,289.4 L257.2,289.4 L257.7,289.5 L258.2,289.5 L258.7,289.5 L259.2,289.4 L259.7,289.4 L260.2,289.5 L260.7,289.5 L261.2,289.5 L261.7,289.3 L262.2,289.3 L262.7,289.2 L263.2,289.3 L263.7,289.3 L264.2,289.4 L264.7,289.5 L265.2,289.5 L265.7,289.4 L266.2,289.5 L266.7,289.5 L267.2,289.6 L267.7,289.5 L268.2,289.5 L268.7,289.5 L269.2,289.6 L269.7,289.6 L270.2,289.6 L270.7,289.7 L271.2,289.5 L271.7,289.5 L272.2,289.5 L272.7,289.6 L273.2,289.6 L273.7,289.4 L274.2,289.5 L274.7,289.4 L275.2,289.6 L275.7,289.5 L276.2,289.7 L276.7,289.7 L277.2,289.7 L277.7,289.6 L278.2,289.5 L278.7,289.5 L279.2,289.6 L279.7,289.6 L280.2,289.7 L280.7,289.6 L281.2,289.6 L281.7,289.6 L282.2,289.6 L282.7,289.6 L283.2,289.7 L283.7,289.6 L284.2,289.6 L284.7,289.5 L285.2,289.6 L285.7,289.7 L286.2,289.8 L286.7,289.8 L287.2,289.8 L287.7,289.6 L288.2,289.6 L288.7,289.7 L289.2,289.8 L289.7,289.8 L290.2,289.8 L290.7,289.8 L291.2,289.7 L291.7,289.8 L292.2,289.7 L292.7,289.8 L293.2,289.8 L293.7,289.8 L294.2,289.7 L294.7,289.7 L295.2,289.7 L295.7,289.7 L296.2,289.8 L296.7,289.8 L297.2,289.8 L297.7,289.7 L298.2,289.7 L298.7,289.7 L299.2,289.7 L299.7,289.8 L300.2,289.8 L300.7,289.8 L301.2,289.9 L301.7,290.0 L302.2,289.9 L302.7,289.9 L303.2,289.9 L303.7,289.9 L304.2,290.0 L304.7,290.1 L305.2,290.1 L305.7,289.9 L306.2,289.9 L306.7,289.9 L307.2,289.8 L307.7,289.9 L308.2,289.9 L308.7,289.9 L309.2,289.9 L309.7,290.1 L310.2,290.1 L310.7,290.1 L311.2,290.0 L311.7,290.1 L312.2,290.1 L312.7,290.1 L313.2,290.1 L313.7,290.1 L314.2,290.0 L314.7,290.1 L315.2,290.1 L315.7,290.2 L316.2,290.1 L316.7,290.0 L317.2,289.9 L317.7,289.9 L318.2,290.0 L318.7,290.2 L319.2,290.2 L319.7,290.2 L320.2,290.0 L320.7,290.0 L321.2,290.1 L321.7,290.0 L322.2,290.1 L322.7,290.1 L323.2,290.4 L323.7,290.3 L324.2,290.2 L324.7,290.1 L325.2,290.1 L325.7,290.0 L326.2,290.0 L326.7,290.1 L327.2,290.2 L327.7,290.3 L328.2,290.3 L328.7,290.2 L329.2,290.1 L329.7,290.2 L330.2,290.3 L330.7,290.3 L331.2,290.3 L331.7,290.3 L332.2,290.2 L332.7,290.2 L333.2,290.2 L333.7,290.3 L334.2,290.3 L334.7,290.2 L335.2,290.2 L335.7,290.2 L336.2,290.2 L336.7,290.2 L337.2,290.3 L337.7,290.4 L338.2,290.4 L338.7,290.2 L339.2,290.3 L339.7,290.2 L340.2,290.2 L340.7,290.2 L341.2,290.3 L341.7,290.4 L342.2,290.3 L342.7,290.3 L343.2,290.3 L343.7,290.4 L344.2,290.4 L344.7,290.4 L345.2,290.4 L345.7,290.4 L346.2,290.4 L346.7,290.3 L347.2,290.3 L347.7,290.3 L348.2,290.2 L348.7,290.2 L349.2,290.3 L349.7,290.3 L350.2,290.4 L350.7,290.5 L351.2,290.6 L351.7,290.7 L352.2,290.5 L352.7,290.5 L353.2,290.5 L353.7,290.6 L354.2,290.5 L354.7,290.7 L355.2,290.6 L355.7,290.6 L356.2,290.4 L356.7,290.5 L357.2,290.5 L357.7,290.6 L358.2,290.5 L358.7,290.5 L359.2,290.5 L359.7,290.6 L360.2,290.5 L360.7,290.5 L361.2,290.5 L361.7,290.6 L362.2,290.6 L362.7,290.7 L363.2,290.7 L363.7,290.6 L364.2,290.6 L364.7,290.7 L365.2,290.7 L365.7,290.7 L366.2,290.5 L366.7,290.6 L367.2,290.6 L367.7,290.7 L368.2,290.7 L368.7,290.8 L369.2,290.8 L369.7,290.6 L370.2,290.7 L370.7,290.6 L371.2,290.7 L371.7,290.7 L372.2,290.6 L372.7,290.7 L373.2,290.7 L373.7,290.6 L374.2,290.6 L374.7,290.6 L375.2,290.7 L375.7,290.8 L376.2,290.8 L376.7,290.8 L377.2,290.9 L377.7,290.8 L378.2,290.8 L378.7,290.8 L379.2,290.9 L379.7,291.0 L380.2,290.9 L380.7,290.9 L381.2,290.8 L381.7,290.8 L382.2,290.7 L382.7,290.7 L383.2,290.7 L383.7,290.8 L384.2,290.8 L384.7,290.8 L385.2,290.8 L385.7,290.8 L386.2,290.6 L386.7,290.7 L387.2,290.8 L387.7,290.9 L388.2,290.9 L388.7,290.8 L389.2,290.8 L389.7,290.8 L390.2,290.9 L390.7,290.9 L391.2,290.9 L391.7,290.7 L392.2,290.8 L392.7,290.8 L393.2,290.9 L393.7,290.9 L394.2,290.9 L394.7,290.9 L395.2,290.9 L395.7,291.0 L396.2,290.9 L396.7,290.9 L397.2,290.9 L397.7,291.1 L398.2,291.1 L398.7,291.1 L399.2,291.0 L399.7,291.0 L400.2,290.9 L400.7,291.0 L401.2,291.0 L401.7,291.1 L402.2,291.1 L402.7,291.1 L403.2,291.1 L403.7,291.1 L404.2,291.0 L404.7,291.1 L405.2,291.1 L405.7,291.1 L406.2,291.2 L406.7,291.1 L407.2,291.3 L407.7,291.3 L408.2,291.1 L408.7,291.0 L409.2,291.0 L409.7,291.1 L410.2,291.2 L410.7,291.3 L411.2,291.3 L411.7,291.2 L412.2,291.1 L412.7,290.9 L413.2,291.1 L413.7,291.1 L414.2,291.2 L414.7,291.0 L415.2,291.0 L415.7,291.0 L416.2,291.1 L416.7,291.1 L417.2,291.1 L417.7,291.2 L418.2,291.2 L418.7,291.1 L419.2,291.0 L419.7,291.0 L420.2,291.1 L420.7,291.1 L421.2,291.1 L421.7,291.1 L422.2,291.1 L422.7,291.1 L423.2,291.2 L423.7,291.3 L424.2,291.3 L424.7,291.2 L425.2,291.1 L425.7,291.3 L426.2,291.4 L426.7,291.3 L427.2,291.1 L427.7,291.0 L428.2,291.2 L428.7,291.2 L429.2,291.2 L429.7,291.2 L430.2,291.3 L430.7,291.2 L431.2,291.2 L431.7,291.2 L432.2,291.2 L432.7,291.3 L433.2,291.3 L433.7,291.4 L434.2,291.3 L434.7,291.4 L435.2,291.4 L435.7,291.4 L436.2,291.4 L436.7,291.3 L437.2,291.3 L437.7,291.3 L438.2,291.3 L438.7,291.3 L439.2,291.3 L439.7,291.3 L440.2,291.4 L440.7,291.3 L441.2,291.4 L441.7,291.3 L442.2,291.4 L442.7,291.4 L443.2,291.5 L443.7,291.4 L444.2,291.3 L444.7,291.3 L445.2,291.3 L445.7,291.4 L446.2,291.4 L446.7,291.5 L447.2,291.5 L447.7,291.5 L448.2,291.5 L448.7,291.4 L449.2,291.5 L449.7,291.4 L450.2,291.6 L450.7,291.4 L451.2,291.4 L451.7,291.3 L452.2,291.4 L452.7,291.5 L453.2,291.6 L453.7,291.5 L454.2,291.5 L454.7,291.4 L455.2,291.4 L455.7,291.4 L456.2,291.5 L456.7,291.5 L457.2,291.5 L457.7,291.4 L458.2,291.5 L458.7,291.6 L459.2,291.6 L459.7,291.6 L460.2,291.6 L460.7,291.6 L461.2,291.6 L461.7,291.5 L462.2,291.5 L462.7,291.5 L463.2,291.5 L463.7,291.5 L464.2,291.5 L464.7,291.5 L465.2,291.5 L465.7,291.5 L466.2,291.5 L466.7,291.6 L467.2,291.6 L467.7,291.7 L468.2,291.7 L468.7,291.6 L469.2,291.4 L469.7,291.5 L470.2,291.5 L470.7,291.6 L471.2,291.5 L471.7,291.5 L472.2,291.4 L472.7,291.5 L473.2,291.7 L473.7,291.7 L474.2,291.7 L474.7,291.6 L475.2,291.6 L475.7,291.6 L476.2,291.6 L476.7,291.7 L477.2,291.7 L477.7,291.7 L478.2,291.7 L478.7,291.8 L479.2,291.7 L479.7,291.7 L480.2,291.5 L480.7,291.4 L481.2,291.4 L481.7,291.6 L482.2,291.6 L482.7,291.6 L483.2,291.6 L483.7,291.6 L484.2,291.7 L484.7,291.6 L485.2,291.8 L485.7,291.7 L486.2,291.7 L486.7,291.6 L487.2,291.7 L487.7,291.7 L488.2,291.8 L488.7,291.6 L489.2,291.7 L489.7,291.6 L490.2,291.7 L490.7,291.7 L491.2,291.8 L491.7,291.9 L492.2,291.8 L492.7,291.9 L493.2,291.8 L493.7,291.9 L494.2,291.8 L494.7,291.8 L495.2,291.7 L495.7,291.8 L496.2,291.8 L496.7,291.9 L497.2,291.9 L497.7,291.8 L498.2,291.8 L498.7,291.8 L499.2,291.7 L499.7,291.8 L500.2,291.7 L500.7,291.8 L501.2,291.8 L501.7,291.8 L502.2,291.7 L502.7,291.7 L503.2,291.8 L503.7,291.9 L504.2,292.0 L504.7,291.9 L505.2,291.9 L505.7,291.9 L506.2,292.0 L506.7,292.0 L507.2,291.9 L507.7,291.7 L508.2,291.8 L508.7,291.8 L509.2,291.9 L509.7,291.9 L510.2,292.1 L510.7,292.1 L511.2,292.1 L511.7,291.9 L512.2,291.9 L512.7,292.0 L513.2,292.0 L513.7,292.0 L514.2,291.8 L514.7,291.8 L515.2,291.8 L515.7,292.0 L516.2,291.9 L516.7,291.9 L517.2,291.8 L517.7,291.9 L518.2,291.9 L518.7,292.0 L519.2,292.0 L519.7,292.0 L520.2,291.9 L520.7,291.9 L521.2,291.9 L521.7,292.0 L522.2,292.1 L522.7,292.1 L523.2,292.1 L523.7,292.1 L524.2,292.0 L524.7,291.9 L525.2,291.9 L525.7,291.9 L526.2,292.0 L526.7,292.0 L527.2,291.9 L527.7,292.0 L528.2,291.8 L528.7,291.9" fill="none" stroke="#ff8214" stroke-width="1.6" stroke-linejoin="round" stroke-linecap="round"/>
<path d="M63.2,356.9 L63.7,357.0 L64.2,357.0 L64.7,356.9 L65.2,356.7 L65.7,356.9 L66.2,357.0 L66.7,357.1 L67.2,357.1 L67.7,357.0 L68.2,356.9 L68.7,356.7 L69.2,356.6 L69.7,356.8 L70.2,356.8 L70.7,356.8 L71.2,356.7 L71.7,356.7 L72.2,356.7 L72.7,356.7 L73.2,356.7 L73.7,356.6 L74.2,356.5 L74.7,356.5 L75.2,356.5 L75.7,356.5 L76.2,356.6 L76.7,356.6 L77.2,356.6 L77.7,356.7 L78.2,356.6 L78.7,356.5 L79.2,356.5 L79.7,356.5 L80.2,356.5 L80.7,356.5 L81.2,356.5 L81.7,356.4 L82.2,356.4 L82.7,356.4 L83.2,356.4 L83.7,356.2 L84.2,356.2 L84.7,356.1 L85.2,356.1 L85.7,356.0 L86.2,356.1 L86.7,356.2 L87.2,356.2 L87.7,356.1 L88.2,356.0 L88.7,355.9 L89.2,355.9 L89.7,356.0 L90.2,356.1 L90.7,356.1 L91.2,356.0 L91.7,355.8 L92.2,355.8 L92.7,355.9 L93.2,356.1 L93.7,356.0 L94.2,356.0 L94.7,356.1 L95.2,356.0 L95.7,356.0 L96.2,355.9 L96.7,355.9 L97.2,355.7 L97.7,355.7 L98.2,355.5 L98.7,355.5 L99.2,355.5 L99.7,355.5 L100.2,355.3 L100.7,355.2 L101.2,355.1 L101.7,354.9 L102.2,354.9 L102.7,354.9 L103.2,355.1 L103.7,355.2 L104.2,355.2 L104.7,355.3 L105.2,355.3 L105.7,355.4 L106.2,355.4 L106.7,355.3 L107.2,355.1 L107.7,355.0 L108.2,355.1 L108.7,355.0 L109.2,354.9 L109.7,354.7 L110.2,354.6 L110.7,354.6 L111.2,354.7 L111.7,354.7 L112.2,354.7 L112.7,354.6 L113.2,354.5 L113.7,354.4 L114.2,354.5 L114.7,354.5 L115.2,354.5 L115.7,354.4 L116.2,354.2 L116.7,354.1 L117.2,354.1 L117.7,354.0 L118.2,354.0 L118.7,353.9 L119.2,353.9 L119.7,353.7 L120.2,353.5 L120.7,353.5 L121.2,353.3 L121.7,353.2 L122.2,352.9 L122.7,352.6 L123.2,352.0 L123.7,351.2 L124.2,350.0 L124.7,348.8 L125.2,347.6 L125.7,346.8 L126.2,346.6 L126.7,347.2 L127.2,348.1 L127.7,349.1 L128.2,350.1 L128.7,351.0 L129.2,351.7 L129.7,351.9 L130.2,352.0 L130.7,352.0 L131.2,352.1 L131.7,352.0 L132.2,351.9 L132.7,351.7 L133.2,351.8 L133.7,351.6 L134.2,351.5 L134.7,351.3 L135.2,351.1 L135.7,350.7 L136.2,350.1 L136.7,349.6 L137.2,348.9 L137.7,347.5 L138.2,345.1 L138.7,341.6 L139.2,336.5 L139.7,329.4 L140.2,320.7 L140.7,312.1 L141.2,306.5 L141.7,307.0 L142.2,313.3 L142.7,322.2 L143.2,330.5 L143.7,337.3 L144.2,342.1 L144.7,345.4 L145.2,347.2 L145.7,348.3 L146.2,348.8 L146.7,349.3 L147.2,349.6 L147.7,349.8 L148.2,349.9 L148.7,349.8 L149.2,349.9 L149.7,349.9 L150.2,349.6 L150.7,349.3 L151.2,349.0 L151.7,348.6 L152.2,348.0 L152.7,347.2 L153.2,346.4 L153.7,345.7 L154.2,345.0 L154.7,344.6 L155.2,344.4 L155.7,344.5 L156.2,345.0 L156.7,345.5 L157.2,346.3 L157.7,347.1 L158.2,347.8 L158.7,348.4 L159.2,348.8 L159.7,349.1 L160.2,349.4 L160.7,349.7 L161.2,349.8 L161.7,350.0 L162.2,350.1 L162.7,350.2 L163.2,350.2 L163.7,350.4 L164.2,350.4 L164.7,350.4 L165.2,350.2 L165.7,350.2 L166.2,350.3 L166.7,350.3 L167.2,350.3 L167.7,350.2 L168.2,350.1 L168.7,350.0 L169.2,350.0 L169.7,349.8 L170.2,349.7 L170.7,349.6 L171.2,349.5 L171.7,349.2 L172.2,348.8 L172.7,348.3 L173.2,347.7 L173.7,346.6 L174.2,345.4 L174.7,344.1 L175.2,342.6 L175.7,341.1 L176.2,339.7 L176.7,338.6 L177.2,337.9 L177.7,337.9 L178.2,338.6 L178.7,339.9 L179.2,341.3 L179.7,342.9 L180.2,344.4 L180.7,345.8 L181.2,346.8 L181.7,347.7 L182.2,348.4 L182.7,348.8 L183.2,349.1 L183.7,349.0 L184.2,348.8 L184.7,348.2 L185.2,347.4 L185.7,346.5 L186.2,345.5 L186.7,345.0 L187.2,345.0 L187.7,345.8 L188.2,346.9 L188.7,348.1 L189.2,349.1 L189.7,349.9 L190.2,350.4 L190.7,350.8 L191.2,351.1 L191.7,351.2 L192.2,351.2 L192.7,351.4 L193.2,351.5 L193.7,351.7 L194.2,351.7 L194.7,351.9 L195.2,352.0 L195.7,352.1 L196.2,352.0 L196.7,352.1 L197.2,352.2 L197.7,352.4 L198.2,352.4 L198.7,352.5 L199.2,352.5 L199.7,352.6 L200.2,352.6 L200.7,352.6 L201.2,352.6 L201.7,352.4 L202.2,352.2 L202.7,351.7 L203.2,351.5 L203.7,352.0 L204.2,352.5 L204.7,352.9 L205.2,353.0 L205.7,353.1 L206.2,353.1 L206.7,353.1 L207.2,353.3 L207.7,353.5 L208.2,353.6 L208.7,353.7 L209.2,353.7 L209.7,353.6 L210.2,353.6 L210.7,353.6 L211.2,353.7 L211.7,353.7 L212.2,353.7 L212.7,353.6 L213.2,353.7 L213.7,353.8 L214.2,353.8 L214.7,353.7 L215.2,353.7 L215.7,353.6 L216.2,353.7 L216.7,353.6 L217.2,353.7 L217.7,353.7 L218.2,353.8 L218.7,354.0 L219.2,354.0 L219.7,354.0 L220.2,353.8 L220.7,353.8 L221.2,353.8 L221.7,354.0 L222.2,354.0 L222.7,353.9 L223.2,353.9 L223.7,354.0 L224.2,353.9 L224.7,353.9 L225.2,353.9 L225.7,354.0 L226.2,353.9 L226.7,354.0 L227.2,354.0 L227.7,354.0 L228.2,354.0 L228.7,353.9 L229.2,354.0 L229.7,353.9 L230.2,353.9 L230.7,353.9 L231.2,354.0 L231.7,354.0 L232.2,354.0 L232.7,354.0 L233.2,354.1 L233.7,354.2 L234.2,354.1 L234.7,354.1 L235.2,354.1 L235.7,354.0 L236.2,354.0 L236.7,354.0 L237.2,354.1 L237.7,354.1 L238.2,354.1 L238.7,354.1 L239.2,354.0 L239.7,354.1 L240.2,354.1 L240.7,354.1 L241.2,354.1 L241.7,354.1 L242.2,354.1 L242.7,354.2 L243.2,354.3 L243.7,354.2 L244.2,354.1 L244.7,354.1 L245.2,354.1 L245.7,354.2 L246.2,354.2 L246.7,354.0 L247.2,354.0 L247.7,354.0 L248.2,354.1 L248.7,354.2 L249.2,354.3 L249.7,354.2 L250.2,354.3 L250.7,354.3 L251.2,354.3 L251.7,354.2 L252.2,354.2 L252.7,354.3 L253.2,354.3 L253.7,354.4 L254.2,354.3 L254.7,354.3 L255.2,354.3 L255.7,354.4 L256.2,354.3 L256.7,354.2 L257.2,354.2 L257.7,354.2 L258.2,354.3 L258.7,354.4 L259.2,354.4 L259.7,354.2 L260.2,354.2 L260.7,354.3 L261.2,354.3 L261.7,354.4 L262.2,354.2 L262.7,354.3 L263.2,354.2 L263.7,354.3 L264.2,354.4 L264.7,354.3 L265.2,354.4 L265.7,354.3 L266.2,354.4 L266.7,354.3 L267.2,354.3 L267.7,354.3 L268.2,354.2 L268.7,354.1 L269.2,354.1 L269.7,354.2 L270.2,354.2 L270.7,354.3 L271.2,354.3 L271.7,354.4 L272.2,354.3 L272.7,354.4 L273.2,354.3 L273.7,354.3 L274.2,354.4 L274.7,354.4 L275.2,354.4 L275.7,354.4 L276.2,354.3 L276.7,354.3 L277.2,354.4 L277.7,354.5 L278.2,354.5 L278.7,354.4 L279.2,354.3 L279.7,354.4 L280.2,354.4 L280.7,354.4 L281.2,354.4 L281.7,354.4 L282.2,354.5 L282.7,354.4 L283.2,354.5 L283.7,354.3 L284.2,354.5 L284.7,354.5 L285.2,354.6 L285.7,354.6 L286.2,354.5 L286.7,354.6 L287.2,354.6 L287.7,354.6 L288.2,354.6 L288.7,354.6 L289.2,354.6 L289.7,354.6 L290.2,354.5 L290.7,354.4 L291.2,354.5 L291.7,354.6 L292.2,354.6 L292.7,354.6 L293.2,354.6 L293.7,354.5 L294.2,354.5 L294.7,354.5 L295.2,354.7 L295.7,354.8 L296.2,354.9 L296.7,354.8 L297.2,354.8 L297.7,354.7 L298.2,354.7 L298.7,354.7 L299.2,354.7 L299.7,354.7 L300.2,354.7 L300.7,354.9 L301.2,355.0 L301.7,354.9 L302.2,354.8 L302.7,354.7 L303.2,354.8 L303.7,354.7 L304.2,354.7 L304.7,354.6 L305.2,354.6 L305.7,354.7 L306.2,354.8 L306.7,354.7 L307.2,354.7 L307.7,354.8 L308.2,354.8 L308.7,354.8 L309.2,354.8 L309.7,354.9 L310.2,354.9 L310.7,355.0 L311.2,355.0 L311.7,355.0 L312.2,355.0 L312.7,355.0 L313.2,355.0 L313.7,354.8 L314.2,354.8 L314.7,354.8 L315.2,354.8 L315.7,354.8 L316.2,354.7 L316.7,354.8 L317.2,354.8 L317.7,354.9 L318.2,354.9 L318.7,355.0 L319.2,355.0 L319.7,355.1 L320.2,355.0 L320.7,354.9 L321.2,354.8 L321.7,354.8 L322.2,354.8 L322.7,354.8 L323.2,354.7 L323.7,354.8 L324.2,355.0 L324.7,355.2 L325.2,355.1 L325.7,355.0 L326.2,354.9 L326.7,354.9 L327.2,354.9 L327.7,355.0 L328.2,355.0 L328.7,355.1 L329.2,355.1 L329.7,355.2 L330.2,355.1 L330.7,355.2 L331.2,355.1 L331.7,355.1 L332.2,355.1 L332.7,355.1 L333.2,355.0 L333.7,355.0 L334.2,355.1 L334.7,355.1 L335.2,355.1 L335.7,355.1 L336.2,355.0 L336.7,355.1 L337.2,355.1 L337.7,355.2 L338.2,355.2 L338.7,355.3 L339.2,355.3 L339.7,355.2 L340.2,355.3 L340.7,355.3 L341.2,355.3 L341.7,355.3 L342.2,355.3 L342.7,355.3 L343.2,355.2 L343.7,355.2 L344.2,355.2 L344.7,355.3 L345.2,355.3 L345.7,355.4 L346.2,355.3 L346.7,355.4 L347.2,355.3 L347.7,355.3 L348.2,355.2 L348.7,355.3 L349.2,355.3 L349.7,355.4 L350.2,355.4 L350.7,355.4 L351.2,355.4 L351.7,355.4 L352.2,355.4 L352.7,355.5 L353.2,355.5 L353.7,355.4 L354.2,355.3 L354.7,355.4 L355.2,355.5 L355.7,355.5 L356.2,355.5 L356.7,355.5 L357.2,355.6 L357.7,355.6 L358.2,355.5 L358.7,355.4 L359.2,355.4 L359.7,355.5 L360.2,355.5 L360.7,355.5 L361.2,355.4 L361.7,355.3 L362.2,355.5 L362.7,355.4 L363.2,355.5 L363.7,355.4 L364.2,355.6 L364.7,355.6 L365.2,355.5 L365.7,355.4 L366.2,355.4 L366.7,355.4 L367.2,355.5 L367.7,355.4 L368.2,355.6 L368.7,355.6 L369.2,355.6 L369.7,355.5 L370.2,355.5 L370.7,355.6 L371.2,355.6 L371.7,355.5 L372.2,355.5 L372.7,355.6 L373.2,355.7 L373.7,355.8 L374.2,355.8 L374.7,355.7 L375.2,355.6 L375.7,355.5 L376.2,355.5 L376.7,355.5 L377.2,355.8 L377.7,355.8 L378.2,355.8 L378.7,355.6 L379.2,355.6 L379.7,355.6 L380.2,355.7 L380.7,355.7 L381.2,355.7 L381.7,355.8 L382.2,355.7 L382.7,355.7 L383.2,355.7 L383.7,355.7 L384.2,355.8 L384.7,355.8 L385.2,355.8 L385.7,355.8 L386.2,355.8 L386.7,355.7 L387.2,355.7 L387.7,355.8 L388.2,355.8 L388.7,355.9 L389.2,355.8 L389.7,355.8 L390.2,355.8 L390.7,355.9 L391.2,355.9 L391.7,355.9 L392.2,355.8 L392.7,355.9 L393.2,355.9 L393.7,355.9 L394.2,355.8 L394.7,355.7 L395.2,355.7 L395.7,355.9 L396.2,355.8 L396.7,355.9 L397.2,355.8 L397.7,355.9 L398.2,355.9 L398.7,355.9 L399.2,355.9 L399.7,355.9 L400.2,356.0 L400.7,356.0 L401.2,355.9 L401.7,355.9 L402.2,355.7 L402.7,355.9 L403.2,356.0 L403.7,356.1 L404.2,356.1 L404.7,355.9 L405.2,355.8 L405.7,356.0 L406.2,356.0 L406.7,356.1 L407.2,356.0 L407.7,356.0 L408.2,356.0 L408.7,356.0 L409.2,356.0 L409.7,355.9 L410.2,355.9 L410.7,356.0 L411.2,356.0 L411.7,355.9 L412.2,355.8 L412.7,355.9 L413.2,355.9 L413.7,356.1 L414.2,356.1 L414.7,356.2 L415.2,356.1 L415.7,356.1 L416.2,356.1 L416.7,356.1 L417.2,356.1 L417.7,356.1 L418.2,356.1 L418.7,356.1 L419.2,356.1 L419.7,356.1 L420.2,356.0 L420.7,356.1 L421.2,356.2 L421.7,356.2 L422.2,356.1 L422.7,356.0 L423.2,356.1 L423.7,356.0 L424.2,356.0 L424.7,356.0 L425.2,356.0 L425.7,356.1 L426.2,356.0 L426.7,356.0 L427.2,355.9 L427.7,355.9 L428.2,356.0 L428.7,356.0 L429.2,356.1 L429.7,356.1 L430.2,356.2 L430.7,356.2 L431.2,356.2 L431.7,356.2 L432.2,356.2 L432.7,356.2 L433.2,356.1 L433.7,356.1 L434.2,356.2 L434.7,356.3 L435.2,356.2 L435.7,356.3 L436.2,356.3 L436.7,356.4 L437.2,356.1 L437.7,356.1 L438.2,356.0 L438.7,356.2 L439.2,356.3 L439.7,356.3 L440.2,356.3 L440.7,356.0 L441.2,356.1 L441.7,356.2 L442.2,356.3 L442.7,356.3 L443.2,356.2 L443.7,356.3 L444.2,356.3 L444.7,356.4 L445.2,356.4 L445.7,356.3 L446.2,356.2 L446.7,356.3 L447.2,356.3 L447.7,356.3 L448.2,356.2 L448.7,356.2 L449.2,356.1 L449.7,356.1 L450.2,356.1 L450.7,356.2 L451.2,356.4 L451.7,356.3 L452.2,356.3 L452.7,356.1 L453.2,356.1 L453.7,356.2 L454.2,356.4 L454.7,356.5 L455.2,356.4 L455.7,356.3 L456.2,356.3 L456.7,356.4 L457.2,356.3 L457.7,356.3 L458.2,356.4 L458.7,356.4 L459.2,356.3 L459.7,356.3 L460.2,356.3 L460.7,356.4 L461.2,356.3 L461.7,356.3 L462.2,356.3 L462.7,356.4 L463.2,356.4 L463.7,356.4 L464.2,356.5 L464.7,356.4 L465.2,356.4 L465.7,356.4 L466.2,356.5 L466.7,356.5 L467.2,356.5 L467.7,356.4 L468.2,356.4 L468.7,356.3 L469.2,356.3 L469.7,356.4 L470.2,356.4 L470.7,356.4 L471.2,356.4 L471.7,356.5 L472.2,356.6 L472.7,356.6 L473.2,356.5 L473.7,356.4 L474.2,356.4 L474.7,356.5 L475.2,356.5 L475.7,356.5 L476.2,356.4 L476.7,356.3 L477.2,356.4 L477.7,356.3 L478.2,356.4 L478.7,356.4 L479.2,356.6 L479.7,356.5 L480.2,356.4 L480.7,356.4 L481.2,356.5 L481.7,356.5 L482.2,356.6 L482.7,356.5 L483.2,356.4 L483.7,356.4 L484.2,356.5 L484.7,356.5 L485.2,356.4 L485.7,356.3 L486.2,356.4 L486.7,356.5 L487.2,356.5 L487.7,356.6 L488.2,356.6 L488.7,356.5 L489.2,356.5 L489.7,356.5 L490.2,356.6 L490.7,356.6 L491.2,356.6 L491.7,356.5 L492.2,356.5 L492.7,356.4 L493.2,356.5 L493.7,356.5 L494.2,356.5 L494.7,356.4 L495.2,356.4 L495.7,356.5 L496.2,356.6 L496.7,356.6 L497.2,356.5 L497.7,356.5 L498.2,356.3 L498.7,356.6 L499.2,356.5 L499.7,356.5 L500.2,356.3 L500.7,356.5 L501.2,356.6 L501.7,356.7 L502.2,356.6 L502.7,356.7 L503.2,356.6 L503.7,356.7 L504.2,356.7 L504.7,356.6 L505.2,356.6 L505.7,356.5 L506.2,356.6 L506.7,356.6 L507.2,356.6 L507.7,356.6 L508.2,356.7 L508.7,356.7 L509.2,356.6 L509.7,356.6 L510.2,356.7 L510.7,356.7 L511.2,356.8 L511.7,356.7 L512.2,356.7 L512.7,356.6 L513.2,356.7 L513.7,356.6 L514.2,356.6 L514.7,356.7 L515.2,356.6 L515.7,356.6 L516.2,356.5 L516.7,356.6 L517.2,356.5 L517.7,356.5 L518.2,356.6 L518.7,356.6 L519.2,356.6 L519.7,356.7 L520.2,356.6 L520.7,356.7 L521.2,356.7 L521.7,356.7 L522.2,356.6 L522.7,356.5 L523.2,356.7 L523.7,356.8 L524.2,356.8 L524.7,356.6 L525.2,356.5 L525.7,356.5 L526.2,356.5 L526.7,356.6 L527.2,356.6 L527.7,356.7 L528.2,356.7 L528.7,356.8" fill="none" stroke="#0f8686" stroke-width="1.6" stroke-linejoin="round" stroke-linecap="round"/>
<line x1="180.6" y1="19.0" x2="153.1" y2="38.9" stroke="#1a1a1a" stroke-width="1.1"/><polygon points="145.6,44.4 150.6,33.7 157.3,43.0" fill="#000"/>
<line x1="206.0" y1="67.0" x2="186.2" y2="89.1" stroke="#1a1a1a" stroke-width="1.1"/><polygon points="180.0,96.0 182.6,84.5 191.1,92.1" fill="#000"/>
<line x1="180.6" y1="156.0" x2="153.0" y2="176.8" stroke="#1a1a1a" stroke-width="1.1"/><polygon points="145.6,182.4 150.4,171.6 157.3,180.7" fill="#000"/>
<line x1="176.4" y1="294.0" x2="155.5" y2="315.7" stroke="#1a1a1a" stroke-width="1.1"/><polygon points="149.0,322.4 152.0,311.0 160.3,318.9" fill="#000"/>
<g stroke="#111" stroke-width="1.5" fill="none">
<path d="M52.0 374.0 H529.2"/>
<path d="M52.6 374.0 v6.6"/>
<path d="M79.0 374.0 v3.6"/>
<path d="M105.5 374.0 v6.6"/>
<path d="M131.9 374.0 v3.6"/>
<path d="M158.4 374.0 v6.6"/>
<path d="M184.8 374.0 v3.6"/>
<path d="M211.3 374.0 v6.6"/>
<path d="M237.7 374.0 v3.6"/>
<path d="M264.2 374.0 v6.6"/>
<path d="M290.6 374.0 v3.6"/>
<path d="M317.1 374.0 v6.6"/>
<path d="M343.5 374.0 v3.6"/>
<path d="M369.9 374.0 v6.6"/>
<path d="M396.4 374.0 v3.6"/>
<path d="M422.8 374.0 v6.6"/>
<path d="M449.3 374.0 v3.6"/>
<path d="M475.7 374.0 v6.6"/>
<path d="M502.2 374.0 v3.6"/>
<path d="M528.6 374.0 v6.6"/>
</g>
<g font-family="'Liberation Sans', sans-serif" font-weight="bold" fill="#0c0c0c" stroke="#0c0c0c" stroke-width="0.25">
<text x="52.6" y="396.2" font-size="14" text-anchor="middle">0</text>
<text x="105.5" y="396.2" font-size="14" text-anchor="middle">10</text>
<text x="158.4" y="396.2" font-size="14" text-anchor="middle">20</text>
<text x="211.3" y="396.2" font-size="14" text-anchor="middle">30</text>
<text x="264.2" y="396.2" font-size="14" text-anchor="middle">40</text>
<text x="317.1" y="396.2" font-size="14" text-anchor="middle">50</text>
<text x="369.9" y="396.2" font-size="14" text-anchor="middle">60</text>
<text x="422.8" y="396.2" font-size="14" text-anchor="middle">70</text>
<text x="475.7" y="396.2" font-size="14" text-anchor="middle">80</text>
<text x="528.6" y="396.2" font-size="14" text-anchor="middle">90</text>
<text x="290.8" y="423.6" font-size="16" text-anchor="middle">2 - theta (deg)</text>
<text transform="translate(24.7,195.9) rotate(-90)" font-size="16.5" text-anchor="middle">Intensity (cps)</text>
<text x="64.2" y="25.4" font-size="14.2">CS</text>
<text x="63.5" y="98.8" font-size="14.2">PL</text>
<text x="67.8" y="240.1" font-size="14.2">ConA</text>
<text x="66.8" y="327.2" font-size="14.2">Gel</text>
</g>
</svg>
</body></html>
